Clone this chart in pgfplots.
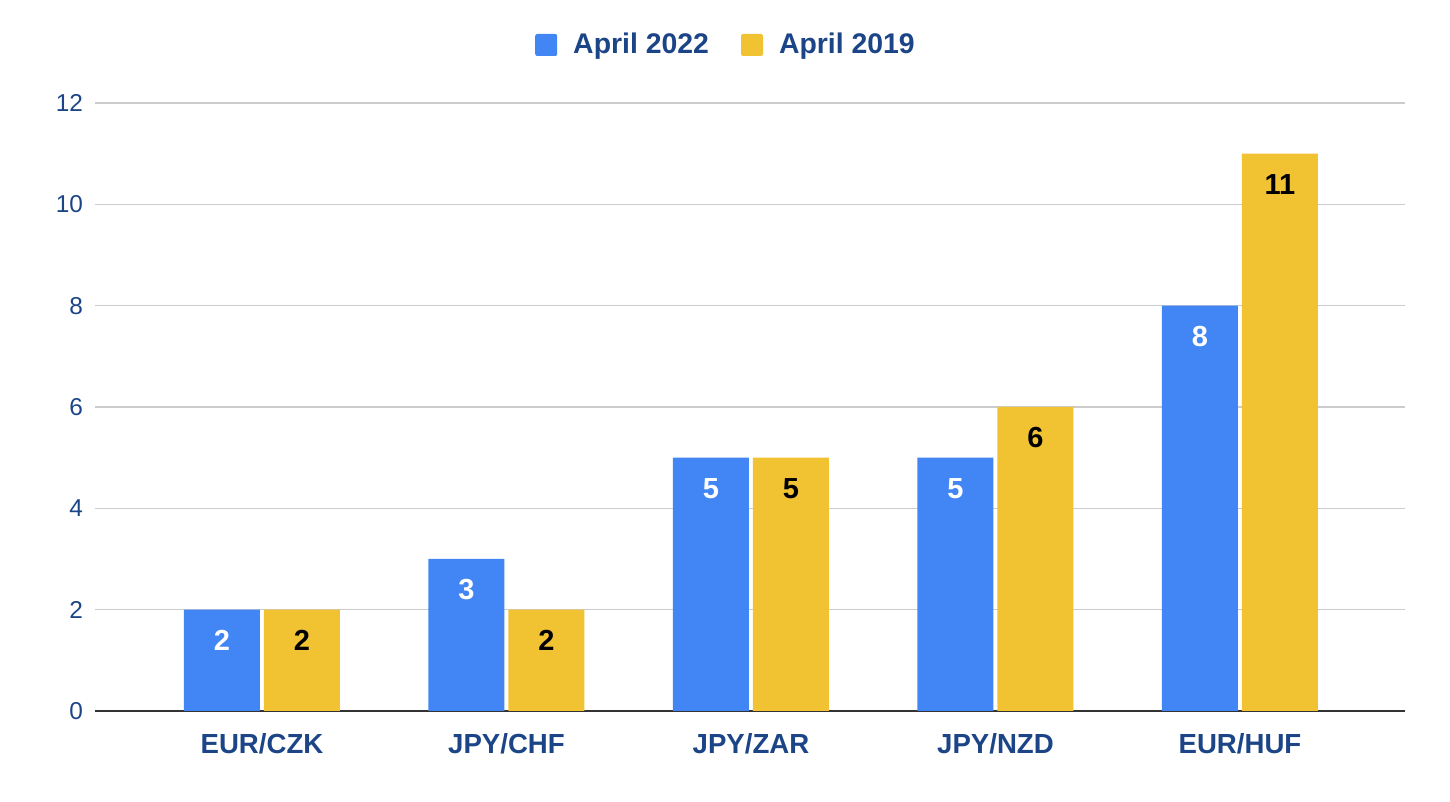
\documentclass[border=0pt]{standalone}
\usepackage{pgfplots}
\pgfplotsset{compat=1.18}
\usepackage{fontspec}
\setmainfont{Liberation Sans}
\definecolor{cblue}{HTML}{4285F4}
\definecolor{cyellow}{HTML}{F1C232}
\definecolor{ctext}{HTML}{1C4587}
\definecolor{cgrid}{HTML}{CCCCCC}
\begin{document}
\begin{tikzpicture}
\useasboundingbox (0,0) rectangle (725pt,401pt);
\begin{axis}[
  at={(47.5pt,45.5pt)}, anchor=south west,
  scale only axis, width=655pt, height=304pt,
  ybar, bar width=38pt,
  xmin=-0.683, xmax=4.675, ymin=0, ymax=12,
  ytick={0,2,...,12},
  xtick={0,1,2,3,4},
  xticklabels={EUR/CZK,JPY/CHF,JPY/ZAR,JPY/NZD,EUR/HUF},
  /pgf/number format/assume math mode=true,
  major tick length=0pt,
  axis x line*=bottom, axis y line*=left,
  y axis line style={draw=none},
  x axis line style={draw=black!80, line width=0.8pt, -},
  ymajorgrids, grid style={cgrid, line width=0.6pt},
  xticklabel style={font=\bfseries\fontsize{13.8}{15}\selectfont, text=ctext, yshift=-7.5pt},
  yticklabel style={font=\fontsize{12.2}{14}\selectfont, text=ctext, xshift=-2.5pt},
  legend columns=2,
  legend style={draw=none, fill=none, at={(0.5,1)}, anchor=center, yshift=29pt, xshift=-11.5pt,
    font=\bfseries\fontsize{14.2}{16}\selectfont, text=ctext,
    /tikz/every odd column/.append style={column sep=6pt},
    /tikz/every even column/.append style={column sep=14pt}},
  legend image code/.code={\fill[#1, rounded corners=1pt] (0pt,-5.5pt) rectangle (11pt,5.5pt);},
]
\addplot[fill=cblue, draw=none, bar shift=-20pt,
  nodes near coords,
  every node near coord/.append style={text=white, font=\bfseries\fontsize{14.5}{16}\selectfont, anchor=center, yshift=-15.5pt}]
  coordinates {(0,2) (1,3) (2,5) (3,5) (4,8)};
\addlegendentry{April 2022}
\addplot[fill=cyellow, draw=none, bar shift=20pt,
  nodes near coords,
  every node near coord/.append style={text=black, font=\bfseries\fontsize{14.5}{16}\selectfont, anchor=center, yshift=-15.5pt}]
  coordinates {(0,2) (1,2) (2,5) (3,6) (4,11)};
\addlegendentry{April 2019}
\end{axis}
\end{tikzpicture}
\end{document}
